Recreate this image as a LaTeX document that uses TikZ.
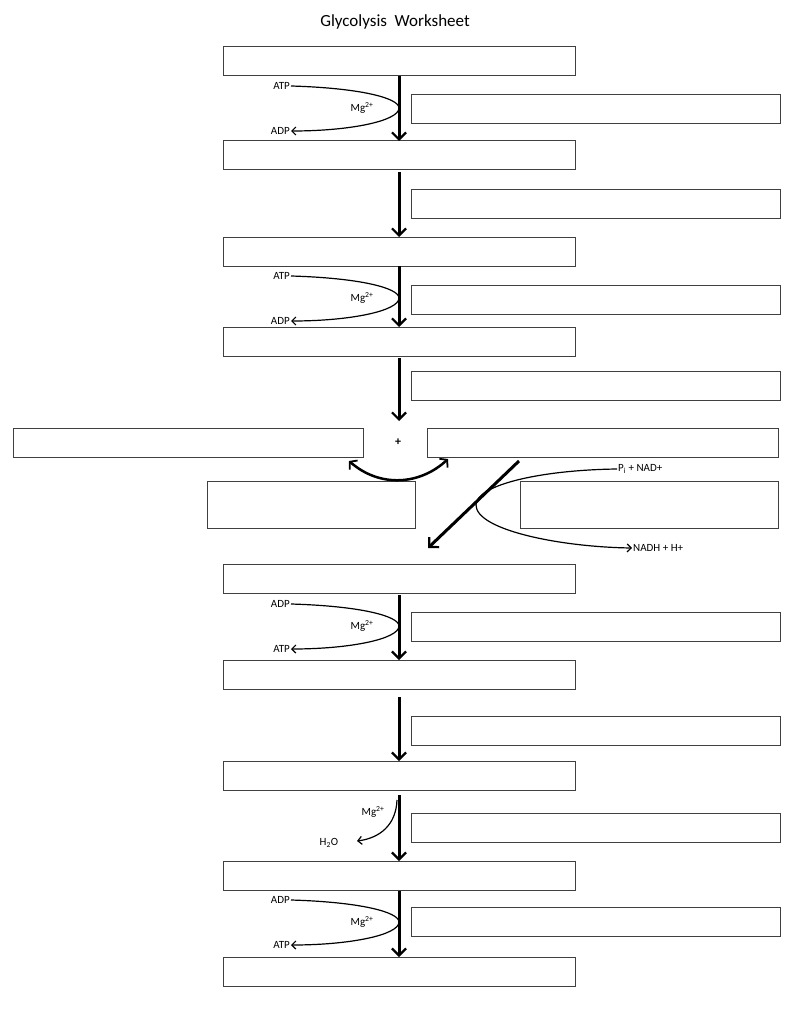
\documentclass[tikz,border=0pt]{standalone}
\usepackage{fontspec}
\setmainfont{Carlito}
\usetikzlibrary{arrows.meta}
\begin{document}
\begin{tikzpicture}[x=1pt,y=-1pt,
 box/.style={draw=black!75,line width=1pt},
 main/.style={line width=3pt,-{Straight Barb[length=7pt,width=14pt,line width=2.2pt]}},
 thin/.style={line width=1.2pt,-{Straight Barb[length=4pt,width=8pt]}},
 lab/.style={font=\fontsize{11}{12}\selectfont,inner sep=1pt}]
\useasboundingbox (0,0) rectangle (790,1016);
\node at (395,22) {\fontsize{17}{20}\selectfont Glycolysis\ \ Worksheet};
% left column boxes
\foreach \n/\y in {L1/47,L2/141,L3/237,L4/327,L5/564,L6/660,L7/761,L8/861,L9/957}
  \draw[box] (223,\y) rectangle (575,\y+29) coordinate (\n);
\foreach \y in {95,190,285,371,612,716,813,907}
  \draw[box] (411,\y) rectangle (780,\y+29);
\draw[box] (13,428) rectangle (363,457);
\draw[box] (427,428) rectangle (778,457);
\draw[box] (207,481) rectangle (415,528);
\draw[box] (520,481) rectangle (778,528);
\node at (398,442) {\bfseries\large +};
% main arrows
\foreach \a/\b in {76/141,172/237,266/327,358/421,595/660,697/761,795/861,891/957}
  \draw[main] (399,\a) -- (399,\b);
% ATP curves
\newcommand\sidecurve[4]{%
 \node[lab,anchor=east] (s#4) at (291,#1) {#2};
 \node[lab,anchor=east] (e#4) at (291,#1+45) {#3};
 \node[lab] at (362,#1+22) {Mg\textsuperscript{2+}};
 \draw[thin] (s#4.east) .. controls (360,#1+2) and (399,#1+12) .. (399,#1+22)
   .. controls (399,#1+35) and (350,#1+45) .. (e#4.east);}
\sidecurve{86}{ATP}{ADP}{a}
\sidecurve{276}{ATP}{ADP}{b}
\sidecurve{604}{ADP}{ATP}{c}
\sidecurve{900}{ADP}{ATP}{d}
% Mg H2O
\node[lab] at (373,812) {Mg\textsuperscript{2+}};
\node[lab] (w) at (329,843) {H\textsubscript{2}O};
\draw[thin] (397,800) .. controls (396,825) and (380,838) .. (357,841);
% split arrows
\draw[line width=2.5pt,{Straight Barb[length=5pt,width=12pt,line width=1.8pt]}-{Straight Barb[length=5pt,width=12pt,line width=1.8pt]}] (349,461) .. controls (380,488) and (420,485) .. (448,459);
\draw[line width=3pt,-{Straight Barb[length=7pt,width=14pt,line width=2.2pt]}] (519,461) -- (428,548);
\node[lab,anchor=west] (pi) at (617,469) {P\textsubscript{i} + NAD+};
\node[lab,anchor=west] (nadh) at (632,548) {NADH + H+};
\draw[thin] (pi.west) .. controls (540,470) and (476,485) .. (476,505)
  .. controls (476,530) and (560,547) .. (nadh.west);
\end{tikzpicture}
\end{document}
